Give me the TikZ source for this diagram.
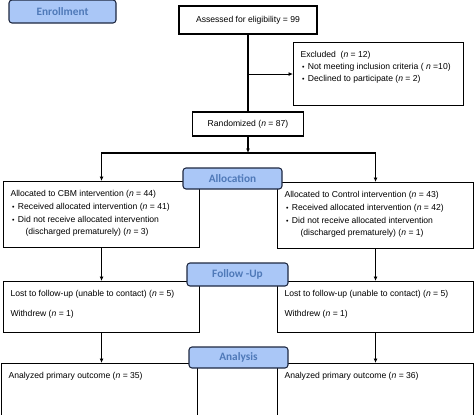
\documentclass[tikz,border=0pt]{standalone}
\usepackage{fontspec}
\setmainfont{Liberation Sans}
\newfontfamily\stagefont{Carlito}
\usetikzlibrary{arrows.meta}
\definecolor{stagefill}{RGB}{170,199,247}
\definecolor{stagetext}{RGB}{79,121,184}
\definecolor{stageline}{RGB}{30,40,65}
\newcommand{\bx}[3]{\parbox[c][#1][t]{#2}{\strut#3}}
\newcommand{\itm}{\hspace*{1.5pt}{\fontsize{7}{12}\selectfont\textbullet}\hspace{3.5pt}}
\begin{document}
\begin{tikzpicture}[x=1pt,y=-1pt,line width=1.05pt,
    box/.style={draw,anchor=north west,inner xsep=7pt,inner ysep=6.5pt,align=left,font=\fontsize{8.6}{12}\selectfont},
    cbox/.style={draw,inner sep=0pt,font=\fontsize{8.6}{12}\selectfont},
    stage/.style={draw=stageline,fill=stagefill,rounded corners=3pt,inner sep=0pt,text=stagetext,font=\stagefont\bfseries\fontsize{11.3}{13}\selectfont},
    arr/.style={-{Latex[length=4.5pt,width=4pt]}}]
      \useasboundingbox (0,0) rectangle (474,415);
      \clip (0,0) rectangle (474,415);
      \node[cbox,minimum width=138pt,minimum height=28pt] (assess) at (248,20) {Assessed for eligibility = 99};
      \node[box] (excl) at (293,42) {\bx{50pt}{156pt}{Excluded\ \ (\textit{n} = 12)\\ \itm Not meeting inclusion criteria ( \textit{n} =10)\\ \itm Declined to participate (\textit{n} = 2)}};
      \node[cbox,minimum width=111pt,minimum height=24pt] (rand) at (248,124) {Randomized (\textit{n} = 87)};
      \node[box] (cbm) at (3,181) {\bx{53pt}{182pt}{Allocated to CBM intervention (\textit{n} = 44)\\[1pt] \itm Received allocated intervention (\textit{n} = 41)\\[1pt] \itm Did not receive allocated intervention\\ \hspace*{15pt}(discharged prematurely) (\textit{n} = 3)}};
      \node[box] (ctl) at (277,182) {\bx{53pt}{182pt}{Allocated to Control intervention (\textit{n} = 43)\\[1pt] \itm Received allocated intervention (\textit{n} = 42)\\[1pt] \itm Did not receive allocated intervention\\ \hspace*{16pt}(discharged prematurely) (\textit{n} = 1)}};
      \node[box] (fucbm) at (3,281) {\bx{38pt}{182pt}{Lost to follow-up (unable to contact) (\textit{n} = 5)\\[8pt] Withdrew (\textit{n} = 1)}};
      \node[box] (fuctl) at (277,281) {\bx{38pt}{182pt}{Lost to follow-up (unable to contact) (\textit{n} = 5)\\[8pt] Withdrew (\textit{n} = 1)}};
      \node[box] (ancbm) at (1,363) {\bx{60pt}{182pt}{Analyzed primary outcome (\textit{n} = 35)}};
      \node[box] (anctl) at (277,363) {\bx{60pt}{182pt}{Analyzed primary outcome (\textit{n} = 36)}};
      \coordinate (split) at (248,153);
      \draw (assess.south) -- (rand.north);
      \draw[arr] (assess.south |- excl.west) -- (excl.west);
      \draw[arr] (rand.south) -- (split);
      \draw[arr] (split) -| (cbm.north);
      \draw[arr] (split) -| (ctl.north);
      \draw[arr] (cbm.south) -- (fucbm.north);
      \draw[arr] (ctl.south) -- (fuctl.north);
      \draw[arr] (fucbm.south) -- (fucbm.south |- ancbm.north);
      \draw[arr] (fuctl.south) -- (fuctl.south |- anctl.north);
      \node[stage,minimum width=107pt,minimum height=23pt] (enroll) at (62.5,11.5) {Enrollment};
      \node[stage,minimum width=99pt,minimum height=21pt] (allocst) at (232.5,178.5) {Allocation};
      \node[stage,minimum width=101pt,minimum height=23pt] (followst) at (237.5,274.5) {Follow -Up};
      \node[stage,minimum width=99pt,minimum height=21pt] (analst) at (238.5,357.5) {Analysis};
    \end{tikzpicture}
\end{document}
